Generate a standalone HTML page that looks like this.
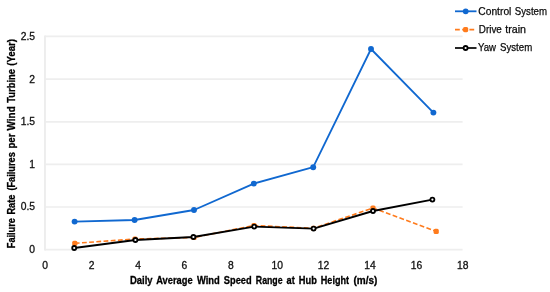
<!DOCTYPE html>
<html><head><meta charset="utf-8"><title>Failure Rate chart</title>
<style>
html,body{margin:0;padding:0;background:#fff;}
body{width:550px;height:292px;overflow:hidden;}
svg{display:block;}
text{font-family:"Liberation Sans",sans-serif;fill:#111;}
.t{font-size:10.3px;stroke:#111;stroke-width:0.3px;}
.b{font-size:10.4px;font-weight:bold;fill:#000;stroke:#000;stroke-width:0.3px;}
.l{font-size:10.8px;fill:#0a0a0a;stroke:#0a0a0a;stroke-width:0.25px;}
</style></head><body>
<svg xmlns="http://www.w3.org/2000/svg" width="550" height="292" viewBox="0 0 550 292">
<rect width="550" height="292" fill="#fff"/>

<line x1="45.2" x2="462.6" y1="249.7" y2="249.7" stroke="#eeeeee" stroke-width="1.7"/>
<line x1="45.2" x2="462.6" y1="207.0" y2="207.0" stroke="#eeeeee" stroke-width="1.7"/>
<line x1="45.2" x2="462.6" y1="164.4" y2="164.4" stroke="#eeeeee" stroke-width="1.7"/>
<line x1="45.2" x2="462.6" y1="121.8" y2="121.8" stroke="#eeeeee" stroke-width="1.7"/>
<line x1="45.2" x2="462.6" y1="79.1" y2="79.1" stroke="#eeeeee" stroke-width="1.7"/>
<line x1="45.2" x2="462.6" y1="36.4" y2="36.4" stroke="#eeeeee" stroke-width="1.7"/>
<line x1="45" x2="45" y1="35.6" y2="250.6" stroke="#ececec" stroke-width="1.8"/>
<text class="t" x="35.0" y="253.1" text-anchor="end">0</text>
<text class="t" x="35.0" y="210.4" text-anchor="end">0.5</text>
<text class="t" x="35.0" y="167.8" text-anchor="end">1</text>
<text class="t" x="35.0" y="125.2" text-anchor="end">1.5</text>
<text class="t" x="35.0" y="82.5" text-anchor="end">2</text>
<text class="t" x="35.0" y="39.8" text-anchor="end">2.5</text>
<text class="t" x="45.2" y="268.6" text-anchor="middle">0</text>
<text class="t" x="91.6" y="268.6" text-anchor="middle">2</text>
<text class="t" x="138.0" y="268.6" text-anchor="middle">4</text>
<text class="t" x="184.4" y="268.6" text-anchor="middle">6</text>
<text class="t" x="230.8" y="268.6" text-anchor="middle">8</text>
<text class="t" x="277.2" y="268.6" text-anchor="middle">10</text>
<text class="t" x="323.6" y="268.6" text-anchor="middle">12</text>
<text class="t" x="370.0" y="268.6" text-anchor="middle">14</text>
<text class="t" x="416.4" y="268.6" text-anchor="middle">16</text>
<text class="t" x="462.8" y="268.6" text-anchor="middle">18</text>
<text class="b" x="130.00" y="283.9" textLength="22.60" lengthAdjust="spacingAndGlyphs">Daily</text>
<text class="b" x="156.20" y="283.9" textLength="36.40" lengthAdjust="spacingAndGlyphs">Average</text>
<text class="b" x="197.00" y="283.9" textLength="22.81" lengthAdjust="spacingAndGlyphs">Wind</text>
<text class="b" x="223.80" y="283.9" textLength="27.81" lengthAdjust="spacingAndGlyphs">Speed</text>
<text class="b" x="255.80" y="283.9" textLength="26.81" lengthAdjust="spacingAndGlyphs">Range</text>
<text class="b" x="286.50" y="283.9" textLength="8.22" lengthAdjust="spacingAndGlyphs">at</text>
<text class="b" x="298.80" y="283.9" textLength="18.01" lengthAdjust="spacingAndGlyphs">Hub</text>
<text class="b" x="320.80" y="283.9" textLength="28.23" lengthAdjust="spacingAndGlyphs">Height</text>
<text class="b" x="353.50" y="283.9" textLength="23.94" lengthAdjust="spacingAndGlyphs">(m/s)</text>
<g transform="translate(15.3,248.3) rotate(-90)">
<text class="b" x="0.10" y="0" textLength="30.10" lengthAdjust="spacingAndGlyphs">Failure</text>
<text class="b" x="33.70" y="0" textLength="20.00" lengthAdjust="spacingAndGlyphs">Rate</text>
<text class="b" x="57.70" y="0" textLength="38.40" lengthAdjust="spacingAndGlyphs">(Failures</text>
<text class="b" x="99.80" y="0" textLength="14.94" lengthAdjust="spacingAndGlyphs">per</text>
<text class="b" x="117.90" y="0" textLength="24.13" lengthAdjust="spacingAndGlyphs">Wind</text>
<text class="b" x="145.60" y="0" textLength="33.60" lengthAdjust="spacingAndGlyphs">Turbine</text>
<text class="b" x="182.50" y="0" textLength="26.73" lengthAdjust="spacingAndGlyphs">(Year)</text>
</g>
<polyline points="74.6,221.6 134.6,220 194,210 253.8,183.6 313.2,167.2 371,49 433.4,112.6" fill="none" stroke="#1068d0" stroke-width="1.8" stroke-linejoin="round"/>
<circle cx="74.6" cy="221.6" r="2.95" fill="#1068d0"/>
<circle cx="134.6" cy="220" r="2.95" fill="#1068d0"/>
<circle cx="194" cy="210" r="2.95" fill="#1068d0"/>
<circle cx="253.8" cy="183.6" r="2.95" fill="#1068d0"/>
<circle cx="313.2" cy="167.2" r="2.95" fill="#1068d0"/>
<circle cx="371" cy="49" r="2.95" fill="#1068d0"/>
<circle cx="433.4" cy="112.6" r="2.95" fill="#1068d0"/>
<polyline points="74.8,243.3 135,239 194,237.5 254,225.5 313.6,228.3 373,208 436.2,231.4" fill="none" stroke="#ff7b1c" stroke-width="1.6" stroke-dasharray="4.8 2.4" stroke-linejoin="round"/>
<rect x="72.2" y="240.7" width="5.2" height="5.2" rx="1.6" fill="#ff7b1c"/>
<rect x="132.4" y="236.4" width="5.2" height="5.2" rx="1.6" fill="#ff7b1c"/>
<rect x="191.4" y="234.9" width="5.2" height="5.2" rx="1.6" fill="#ff7b1c"/>
<rect x="251.4" y="222.9" width="5.2" height="5.2" rx="1.6" fill="#ff7b1c"/>
<rect x="311.0" y="225.7" width="5.2" height="5.2" rx="1.6" fill="#ff7b1c"/>
<rect x="370.4" y="205.4" width="5.2" height="5.2" rx="1.6" fill="#ff7b1c"/>
<rect x="433.6" y="228.8" width="5.2" height="5.2" rx="1.6" fill="#ff7b1c"/>
<polyline points="74.2,248 135.4,240 193.4,237 254.2,226.6 313.6,228.6 373,211 432.4,199.6" fill="none" stroke="#000" stroke-width="1.9" stroke-linejoin="round"/>
<circle cx="74.2" cy="248" r="2.0" fill="#fff" stroke="#000" stroke-width="1.8"/>
<circle cx="135.4" cy="240" r="2.0" fill="#fff" stroke="#000" stroke-width="1.8"/>
<circle cx="193.4" cy="237" r="2.0" fill="#fff" stroke="#000" stroke-width="1.8"/>
<circle cx="254.2" cy="226.6" r="2.0" fill="#fff" stroke="#000" stroke-width="1.8"/>
<circle cx="313.6" cy="228.6" r="2.0" fill="#fff" stroke="#000" stroke-width="1.8"/>
<circle cx="373" cy="211" r="2.0" fill="#fff" stroke="#000" stroke-width="1.8"/>
<circle cx="432.4" cy="199.6" r="2.0" fill="#fff" stroke="#000" stroke-width="1.8"/>
<line x1="455" x2="476.5" y1="11.3" y2="11.3" stroke="#1068d0" stroke-width="1.8"/><circle cx="465.7" cy="11.3" r="2.9" fill="#1068d0"/>
<line x1="455" x2="476.5" y1="29.6" y2="29.6" stroke="#ff7b1c" stroke-width="1.6" stroke-dasharray="4.8 2.4"/><rect x="463" y="27.0" width="5.2" height="5.2" rx="1.6" fill="#ff7b1c"/>
<line x1="455" x2="476.5" y1="48.0" y2="48.0" stroke="#000" stroke-width="1.7"/><circle cx="465.6" cy="48.0" r="2.0" fill="#fff" stroke="#000" stroke-width="1.8"/>
<text class="l" x="478.30" y="14.7" textLength="33.08" lengthAdjust="spacingAndGlyphs">Control</text>
<text class="l" x="514.80" y="14.7" textLength="32.19" lengthAdjust="spacingAndGlyphs">System</text>
<text class="l" x="478.80" y="32.9" textLength="23.00" lengthAdjust="spacingAndGlyphs">Drive</text>
<text class="l" x="505.20" y="32.9" textLength="20.80" lengthAdjust="spacingAndGlyphs">train</text>
<text class="l" x="478.00" y="51.3" textLength="18.02" lengthAdjust="spacingAndGlyphs">Yaw</text>
<text class="l" x="500.00" y="51.3" textLength="32.19" lengthAdjust="spacingAndGlyphs">System</text>
</svg></body></html>
